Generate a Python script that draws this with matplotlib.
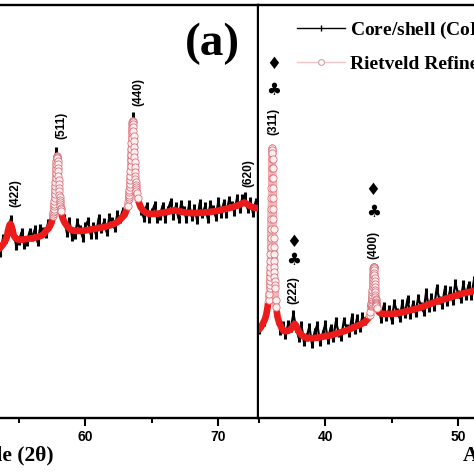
import numpy as np
import matplotlib
matplotlib.use("Agg")
import matplotlib.pyplot as plt
from matplotlib.ticker import MultipleLocator
from matplotlib.lines import Line2D

# ---------------- data (intensity in a.u.) ----------------
# Panel (a): observed pattern on a regular 2-theta step grid
obs_a_start = 53.4
obs_a_step = 0.2
obs_a_y = [41.1, 40.0, 43.5, 43.3, 46.0, 48.2, 44.8, 41.7, 42.8, 45.0,
           41.8, 42.5, 45.1, 43.8, 45.7, 42.6, 46.0, 45.2, 44.6, 47.3,
           47.9, 50.5, 64.6, 57.5, 50.0, 48.5, 44.9, 47.7, 43.8, 44.4,
           47.4, 45.7, 43.7, 46.6, 47.8, 44.4, 46.4, 44.4, 48.4, 45.8,
           47.5, 45.0, 48.6, 47.6, 45.9, 49.3, 48.2, 50.2, 49.9, 54.0,
           62.9, 73.1, 56.5, 52.0, 50.2, 48.4, 51.4, 48.2, 49.9, 51.6,
           48.1, 49.0, 51.4, 48.3, 50.3, 52.4, 49.0, 51.3, 48.3, 51.9,
           50.4, 48.1, 51.7, 48.7, 50.9, 47.9, 52.1, 49.3, 51.3, 48.3,
           51.8, 50.5, 48.7, 52.5, 49.4, 52.1, 49.5, 52.8, 51.6, 49.9,
           53.3, 50.7, 53.3, 53.8, 50.6, 52.6, 49.6, 52.4, 50.1]

# Panel (a): Rietveld refinement, background and weak reflections
fit_a_x = [53.40, 53.60, 53.80, 53.95, 54.06, 54.12, 54.18, 54.24, 54.30, 54.36,
           54.42, 54.48, 54.54, 54.62, 54.75, 54.95, 55.30, 55.70, 56.10, 56.50,
           56.80, 57.06, 57.26, 57.41, 57.485,
           58.235, 58.31, 58.46, 58.66, 58.90, 59.20, 59.60, 60.00, 60.50, 61.00,
           61.50, 62.00, 62.40, 62.75, 62.95, 63.10, 63.175,
           63.925, 64.00, 64.15, 64.35, 64.60, 65.00, 65.50, 66.00, 66.40, 66.70,
           67.10, 67.60, 68.20, 68.80, 69.40, 70.00, 70.50, 71.00, 71.40, 71.70,
           71.95, 72.20, 72.50, 72.90, 73.00]
fit_a_y = [40.7, 41.2, 42.0, 42.8, 43.5, 44.3, 45.3, 46.1, 46.7, 47.0,
           46.7, 46.0, 45.1, 44.2, 43.5, 43.2, 43.2, 43.4, 43.6, 43.9,
           44.3, 45.4, 46.0, 47.0, 47.7,
           49.0, 48.2, 47.2, 46.3, 45.6, 45.3, 45.3, 45.4, 45.7, 46.0,
           46.3, 46.8, 47.4, 48.5, 49.2, 50.4, 51.4,
           53.3, 52.4, 51.1, 50.2, 49.6, 49.4, 49.5, 49.8, 50.1, 50.3,
           50.0, 49.7, 49.6, 49.7, 49.9, 50.2, 50.6, 51.0, 51.4, 51.8,
           52.2, 51.7, 51.1, 50.8, 50.8]
# Panel (a): refinement through (511) and (440), fine 0.015 deg steps
pk511_start, pk511_step = 57.56, 0.015
pk511_y = [49.0, 49.4, 49.8, 50.2, 50.7, 51.3, 51.8, 52.5, 53.3, 54.2, 55.1,
           56.1, 57.1, 58.2, 59.4, 60.4, 61.4, 62.2, 62.8, 63.2, 63.4,
           63.2, 62.9, 62.3, 61.5, 60.6, 59.7, 58.7, 57.7, 56.7, 55.8,
           55.0, 54.1, 53.4, 52.8, 52.2, 51.7, 51.3, 50.9, 50.6, 50.2]
pk440_start, pk440_step = 63.25, 0.015
pk440_y = [53.1, 53.6, 54.1, 54.7, 55.3, 56.0, 56.7, 57.7, 58.6, 59.9, 61.1,
           62.4, 63.7, 65.2, 66.6, 67.9, 69.2, 70.3, 71.2, 71.7, 71.9,
           71.7, 71.2, 70.4, 69.4, 68.2, 67.0, 65.7, 64.3, 63.1, 61.9,
           60.8, 59.6, 58.7, 57.9, 57.2, 56.5, 56.0, 55.4, 55.0, 54.5]

# Panel (b): observed pattern
obs_b_start = 35.0
obs_b_step = 0.2
obs_b_y = [21.2, 22.8, 23.2, 26.2, 33.5, 65.0, 31.0, 24.8, 21.1, 22.5,
           20.0, 22.7, 21.9, 25.2, 21.8, 19.4, 22.5, 18.3, 19.7, 22.1,
           17.9, 20.9, 22.6, 18.3, 20.4, 22.7, 18.8, 21.9, 19.4, 23.4,
           20.7, 19.6, 23.6, 21.8, 20.5, 24.4, 21.3, 24.3, 21.7, 24.7,
           23.5, 24.6, 27.5, 36.4, 31.5, 27.3, 23.9, 27.2, 24.4, 26.3,
           23.7, 27.9, 25.7, 24.2, 27.8, 25.2, 28.9, 24.9, 27.6, 25.5,
           29.1, 27.2, 25.7, 30.5, 26.7, 29.3, 26.9, 31.5, 28.6, 27.4,
           31.2, 28.1, 30.9, 28.4, 32.7, 30.1, 28.9, 32.4, 29.6, 32.3,
           29.6, 33.3, 31.3]

# Panel (b): Rietveld refinement, background and weak reflections
fit_b_x = [35.00, 35.15, 35.30, 35.45, 35.55, 35.65, 35.72, 35.76,
           36.25, 36.30, 36.40, 36.55, 36.70, 36.85, 37.00, 37.20, 37.40, 37.50,
           37.60, 37.70, 37.80, 37.90, 38.00, 38.20, 38.50, 39.00, 39.50, 40.00,
           40.40, 41.00, 41.50, 41.90, 42.40, 42.80, 43.00, 43.25, 43.35, 43.40,
           43.90, 43.95, 44.05, 44.20, 44.40, 44.80, 45.30, 45.80, 46.30, 46.80,
           47.30, 47.80, 48.30, 48.80, 49.30, 49.80, 50.30, 50.80, 51.40]
fit_b_y = [21.4, 22.0, 22.9, 23.9, 25.0, 26.8, 28.6, 30.0,
           28.5, 26.8, 24.5, 22.8, 21.9, 21.1, 21.0, 21.1, 21.5, 21.9,
           22.5, 22.8, 22.4, 21.6, 20.9, 20.1, 19.5, 19.3, 19.5, 19.8,
           20.0, 20.6, 21.1, 21.6, 22.3, 22.9, 23.3, 24.2, 24.9, 25.6,
           26.6, 26.1, 25.6, 25.3, 25.2, 25.2, 25.3, 25.6, 26.0, 26.4,
           26.9, 27.5, 28.1, 28.6, 29.1, 29.6, 30.1, 30.5, 30.9]
# Panel (b): refinement through (311) and (400), fine 0.01 deg steps
pk311_start, pk311_step = 35.80, 0.01
pk311_y = [31.4, 32.3, 33.1, 34.2, 35.3, 36.6, 37.9, 39.7, 41.4, 43.6, 45.8,
           48.2, 50.6, 53.2, 55.8, 58.2, 60.6, 62.6, 64.1, 65.0, 65.4,
           65.0, 64.1, 62.6, 60.6, 58.2, 55.8, 53.2, 50.6, 48.2, 45.8,
           43.6, 41.4, 39.7, 37.9, 36.6, 35.3, 34.2, 33.1, 32.3, 31.4]
pk400_start, pk400_step = 43.45, 0.01
pk400_y = [27.0, 27.3, 27.5, 27.8, 28.1, 28.5, 28.8, 29.3, 29.8, 30.5, 31.1,
           31.7, 32.4, 33.2, 33.9, 34.6, 35.2, 35.8, 36.2, 36.5, 36.6,
           36.5, 36.2, 35.8, 35.2, 34.6, 33.9, 33.2, 32.4, 31.7, 31.1,
           30.5, 29.8, 29.3, 28.8, 28.5, 28.1, 27.8, 27.5, 27.3, 27.0]

# reflections (label, 2-theta of the observed maximum)
hkl_a = ["(422)", "(511)", "(440)", "(620)"]
hkl_a_pos = [54.4, 57.8, 63.6, 72.0]
hkl_b = ["(311)", "(222)", "(400)"]
hkl_b_pos = [36.0, 37.6, 43.6]
strong_a = [57.86, 63.55]   # reflections drawn with refinement circles
strong_b = [36.00, 43.65]

legend_labels = ["Core/shell (CoFe$_2$O$_4$/Co$_3$O$_4$)", "Rietveld Refinement"]

# ---------------- style ----------------
DPI = 100
SERIF = "Liberation Serif"
SANS = "Liberation Sans"
PT = 72.0 / DPI  # points per pixel

fig = plt.figure(figsize=(4.74, 4.74), dpi=DPI)
W = 474.0
bottom_px, top_px = 418.0, 5.0
ax_b_frac = (474 - bottom_px) / W
ax_h_frac = (bottom_px - top_px) / W
axA = fig.add_axes([-247.1 / W, ax_b_frac, 505.4 / W, ax_h_frac])
axB = fig.add_axes([258.95 / W, ax_b_frac, 504.3 / W, ax_h_frac])

RED = "#ee1b1b"
PINK_LINE = "#f4b8b8"
PINK_EDGE = "#d8737e"


def assemble(bx, by, segs):
    xs = [np.asarray(bx, float)]
    ys = [np.asarray(by, float)]
    for start, step, vals in segs:
        xs.append(start + step * np.arange(len(vals)))
        ys.append(np.asarray(vals, float))
    x = np.concatenate(xs)
    y = np.concatenate(ys)
    order = np.argsort(x)
    return x[order], y[order]


def draw_panel(ax, ox0, ostep, oy, fx, fy, strong, wins):
    oy = np.asarray(oy)
    ox = ox0 + ostep * np.arange(len(oy))
    ax.plot(ox, oy, color="black", lw=1.6, marker="|", ms=6, mew=2.2, zorder=2)
    ax.plot(fx, fy, color=RED, lw=4.8, solid_capstyle="round", zorder=3)
    mask = np.zeros(len(fx), bool)
    for c, w in zip(strong, wins):
        mask |= np.abs(fx - c) <= w
    yy = np.where(mask, fy, np.nan)
    ax.plot(fx, yy, color=PINK_LINE, lw=5.0, zorder=4)
    ax.plot(fx[mask], fy[mask], ls="none", marker="o", ms=5.2, mfc="#fff0f0",
            mec=PINK_EDGE, mew=0.6, zorder=5)
    return ox, oy


fa_x, fa_y = assemble(fit_a_x, fit_a_y, [(pk511_start, pk511_step, pk511_y),
                                         (pk440_start, pk440_step, pk440_y)])
fb_x, fb_y = assemble(fit_b_x, fit_b_y, [(pk311_start, pk311_step, pk311_y),
                                         (pk400_start, pk400_step, pk400_y)])

oxa, oya = draw_panel(axA, obs_a_start, obs_a_step, obs_a_y, fa_x, fa_y, strong_a, [0.36, 0.40])
oxb, oyb = draw_panel(axB, obs_b_start, obs_b_step, obs_b_y, fb_x, fb_y, strong_b, [0.35, 0.30])

for ax in (axA, axB):
    ax.set_xlim(35, 73)
    ax.set_ylim(0, 100)
    ax.xaxis.set_major_locator(MultipleLocator(10))
    ax.xaxis.set_minor_locator(MultipleLocator(5))
    ax.tick_params(axis="x", which="major", direction="out", length=5.8, width=1.5,
                   pad=3.0, top=False)
    ax.tick_params(axis="x", which="minor", direction="out", length=3.6, width=1.4, top=False)
    ax.tick_params(axis="y", left=False, right=False, labelleft=False)
    for lab in ax.get_xticklabels():
        lab.set_fontfamily(SANS)
        lab.set_fontweight("bold")
        lab.set_fontsize(10)
    for s in ax.spines.values():
        s.set_linewidth(1.7)
    ax.set_xlabel("Angle (2θ)", fontfamily=SERIF, fontweight="bold", fontsize=15.5,
                  labelpad=1.5)
axB.spines["left"].set_visible(False)


def label_peaks(ax, names, pos, ox, oy, dx_px, up_px, suits=None):
    for i, (n, p) in enumerate(zip(names, pos)):
        top = oy[np.argmin(np.abs(ox - p))]
        ax.annotate(n, xy=(p, top), xytext=(dx_px[i] * PT, up_px[i] * PT),
                    textcoords="offset points", rotation=90, ha="center", va="center",
                    fontfamily=SANS, fontweight="bold", fontsize=8.6, zorder=6)
        if suits is not None:
            for sym, off in ((u"\u2663", suits[i][0]), (u"\u2666", suits[i][1])):
                ax.annotate(sym, xy=(p, top), xytext=(dx_px[i] * PT, off * PT),
                            textcoords="offset points", ha="center", va="center",
                            fontfamily="DejaVu Sans", fontsize=12, zorder=6)


label_peaks(axA, hkl_a, hkl_a_pos, oxa, oya, [4, 5, 5, 3], [26, 26, 24, 23])
label_peaks(axB, hkl_b, hkl_b_pos, oxb, oyb, [1, 0, 0], [28, 24, 23],
            suits=[(60, 86), (54, 72), (56, 78)])

axA.text(0.91, 0.905, "(a)", transform=axA.transAxes, ha="center", va="center",
         fontfamily=SERIF, fontweight="bold", fontsize=34)

handles = [Line2D([], [], color="black", lw=1.0, marker="|", ms=4, mew=1.0),
           Line2D([], [], color="#f0c4c4", lw=1.0, marker="o", ms=4.2, mfc="white",
                  mec="#d9a0a0", mew=0.8)]
axB.legend(handles, legend_labels, loc="upper left", bbox_to_anchor=(0.0754, 0.965),
           frameon=False, borderpad=0, borderaxespad=0, handlelength=2.45,
           handletextpad=0.28, labelspacing=0.75,
           prop={"family": SERIF, "weight": "bold", "size": 14})

fig.savefig("out.png", dpi=DPI)
